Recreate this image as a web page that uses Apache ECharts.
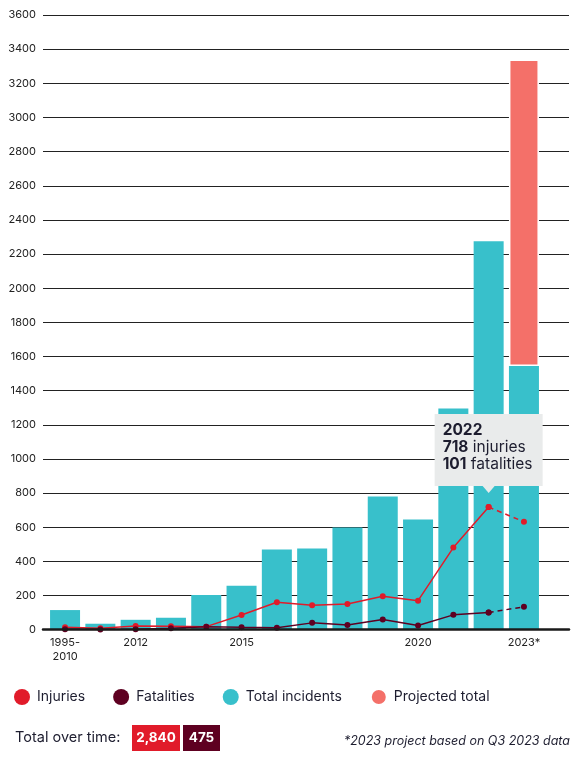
<!DOCTYPE html>
<html>
<head>
<meta charset="utf-8">
<script src="https://cdn.jsdelivr.net/npm/echarts@6/dist/echarts.min.js"></script>
<style>
  html, body { margin: 0; padding: 0; background: #fff; }
  #chart { width: 576px; height: 757px; }
</style>
</head>
<body>
<div id="chart"></div>
<script>
// ---- data ----
const categories = ['1995-2010','2011','2012','2013','2014','2015','2016','2017','2018','2019','2020','2021','2022','2023*'];
const tickLabels = ['1995-\n2010','','2012','','','2015','','','','','2020','','','2023*'];
const totalIncidents = [115, 35, 58, 70, 203, 257, 470, 476, 598, 780, 645, 1295, 2275, 1545];
const projectedTotal = [null, null, null, null, null, null, null, null, null, null, null, null, null, 3340];
const injuries   = [14, 8, 21, 20, 18, 86, 161, 143, 151, 196, 170, 481, 718, 632];
const fatalities = [2, 1, 3, 8, 17, 14, 12, 40, 27, 60, 25, 87, 101, 134];
const yMin = 0, yMax = 3600, yInterval = 200;
const totalInjuriesOverTime = '2,840';
const totalFatalitiesOverTime = '475';
const footnote = '*2023 project based on Q3 2023 data';
const lastActual = 12; // index where the dashed (projected) segment starts

// ---- styles ----
const FONT = 'Inter, "Noto Sans", sans-serif';
const C_TEAL = '#38c0cb', C_CORAL = '#f47069', C_RED = '#e11b2a', C_MAROON = '#5e0021';
const C_TEXT = '#1d1d2f';

const projectedExtra = projectedTotal.map((p, i) => p == null ? null : p - totalIncidents[i]);
const solid = arr => arr.map((v, i) => i <= lastActual ? v : null);
const dashed = arr => arr.map((v, i) => i >= lastActual ? v : null);

const chart = echarts.init(document.getElementById('chart'), null, { renderer: 'canvas' });

const lineBase = (name, color, data, type) => ({
  name, type: 'line', xAxisIndex: 1, yAxisIndex: 1, data,
  symbol: 'circle', symbolSize: 6, showSymbol: true, z: 6,
  itemStyle: { color },
  lineStyle: { color, width: 1.5, type: type },
  connectNulls: false
});

chart.setOption({
  animation: false,
  textStyle: { fontFamily: FONT },
  grid: [
    { left: 43, right: 7, top: 15, bottom: 127.3 },
    { left: 47.4, right: 34.4, top: 15, bottom: 127.3 }
  ],
  xAxis: [
    { gridIndex: 0, type: 'category', data: categories, z: 8,
      axisLabel: { show: false }, axisTick: { show: false },
      axisLine: { show: true, lineStyle: { color: '#1a1a1a', width: 2.5 } } },
    { gridIndex: 1, type: 'category', data: categories,
      axisLine: { show: false }, axisTick: { show: false },
      axisLabel: { interval: 0, formatter: (v, i) => tickLabels[i], fontSize: 11, lineHeight: 14,
        color: '#222', margin: 6, fontFamily: FONT } }
  ],
  yAxis: [
    { gridIndex: 0, type: 'value', min: yMin, max: yMax, interval: yInterval,
      axisLine: { show: false }, axisTick: { show: false },
      axisLabel: { fontSize: 11, color: '#222', margin: 7, fontFamily: FONT, formatter: v => String(v) },
      splitLine: { lineStyle: { color: '#222', width: 1 } } },
    { gridIndex: 1, type: 'value', min: yMin, max: yMax, interval: yInterval, show: false,
      splitLine: { show: false } }
  ],
  legend: {
    left: 9, top: 683, icon: 'circle', itemWidth: 16, itemHeight: 16, itemGap: 28,
    data: ['Injuries', 'Fatalities', 'Total incidents', 'Projected total'],
    textStyle: { fontSize: 14, color: C_TEXT, fontFamily: FONT, padding: [0, 0, 0, 2] },
    selectedMode: false
  },
  series: [
    { name: 'Total incidents', type: 'bar', xAxisIndex: 1, yAxisIndex: 1, stack: 'total',
      data: totalIncidents, barCategoryGap: '15%', itemStyle: { color: C_TEAL }, z: 2 },
    { name: 'Projected total', type: 'bar', xAxisIndex: 1, yAxisIndex: 1, stack: 'total',
      data: projectedExtra, barCategoryGap: '15%',
      itemStyle: { color: C_CORAL, borderColor: '#fff', borderWidth: 1.5 }, z: 2 },
    lineBase('Injuries', C_RED, solid(injuries), 'solid'),
    lineBase('Injuries', C_RED, dashed(injuries), [5, 4]),
    lineBase('Fatalities', C_MAROON, solid(fatalities), 'solid'),
    lineBase('Fatalities', C_MAROON, dashed(fatalities), [5, 4])
  ]
});

// ---- annotation box anchored to the 2022 injuries point ----
const pt = chart.convertToPixel({ xAxisIndex: 1, yAxisIndex: 1 }, [categories[lastActual], injuries[lastActual]]);
const boxW = 108, boxH = 72;
const boxBottom = pt[1] - 21;
const boxLeft = pt[0] - boxW / 2;
const boxTop = boxBottom - boxH;

chart.setOption({
  graphic: [
    { type: 'rect', z: 20, shape: { x: boxLeft, y: boxTop, width: boxW, height: boxH },
      style: { fill: '#e9ebeb' } },
    { type: 'polygon', z: 20, shape: { points: [[pt[0] - 6, boxBottom], [pt[0] + 6, boxBottom], [pt[0], boxBottom + 7]] },
      style: { fill: '#e9ebeb' } },
    { type: 'text', z: 21, x: boxLeft + 8, y: boxTop + 8,
      style: {
        text: '{b|' + categories[lastActual] + '}\n{b|' + injuries[lastActual] + '}{n| injuries}\n{b|' + fatalities[lastActual] + '}{n| fatalities}',
        fill: C_TEXT, fontSize: 15.5, fontFamily: FONT, lineHeight: 17,
        rich: {
          b: { fontWeight: 'bold', fontSize: 15.5, fontFamily: FONT, fill: C_TEXT, lineHeight: 17 },
          n: { fontWeight: 'normal', fontSize: 15.5, fontFamily: FONT, fill: C_TEXT, lineHeight: 17 }
        }
      } },
    // totals row
    { type: 'text', x: 15, y: 738, style: { text: 'Total over time:', fontSize: 14.5, fontFamily: FONT,
        fill: C_TEXT, verticalAlign: 'middle', align: 'left' } },
    { type: 'rect', shape: { x: 132, y: 725, width: 48, height: 26 }, style: { fill: C_RED } },
    { type: 'text', x: 156, y: 738, style: { text: totalInjuriesOverTime, fontSize: 13.5, fontWeight: 'bold',
        fontFamily: FONT, fill: '#fff', align: 'center', verticalAlign: 'middle' } },
    { type: 'rect', shape: { x: 183, y: 725, width: 37, height: 26 }, style: { fill: C_MAROON } },
    { type: 'text', x: 201.5, y: 738, style: { text: totalFatalitiesOverTime, fontSize: 13.5, fontWeight: 'bold',
        fontFamily: FONT, fill: '#fff', align: 'center', verticalAlign: 'middle' } },
    { type: 'text', x: 570, y: 741, style: { text: footnote, fontSize: 12.5, fontStyle: 'italic',
        fontFamily: FONT, fill: C_TEXT, align: 'right', verticalAlign: 'middle' } }
  ]
});
</script>
</body>
</html>
